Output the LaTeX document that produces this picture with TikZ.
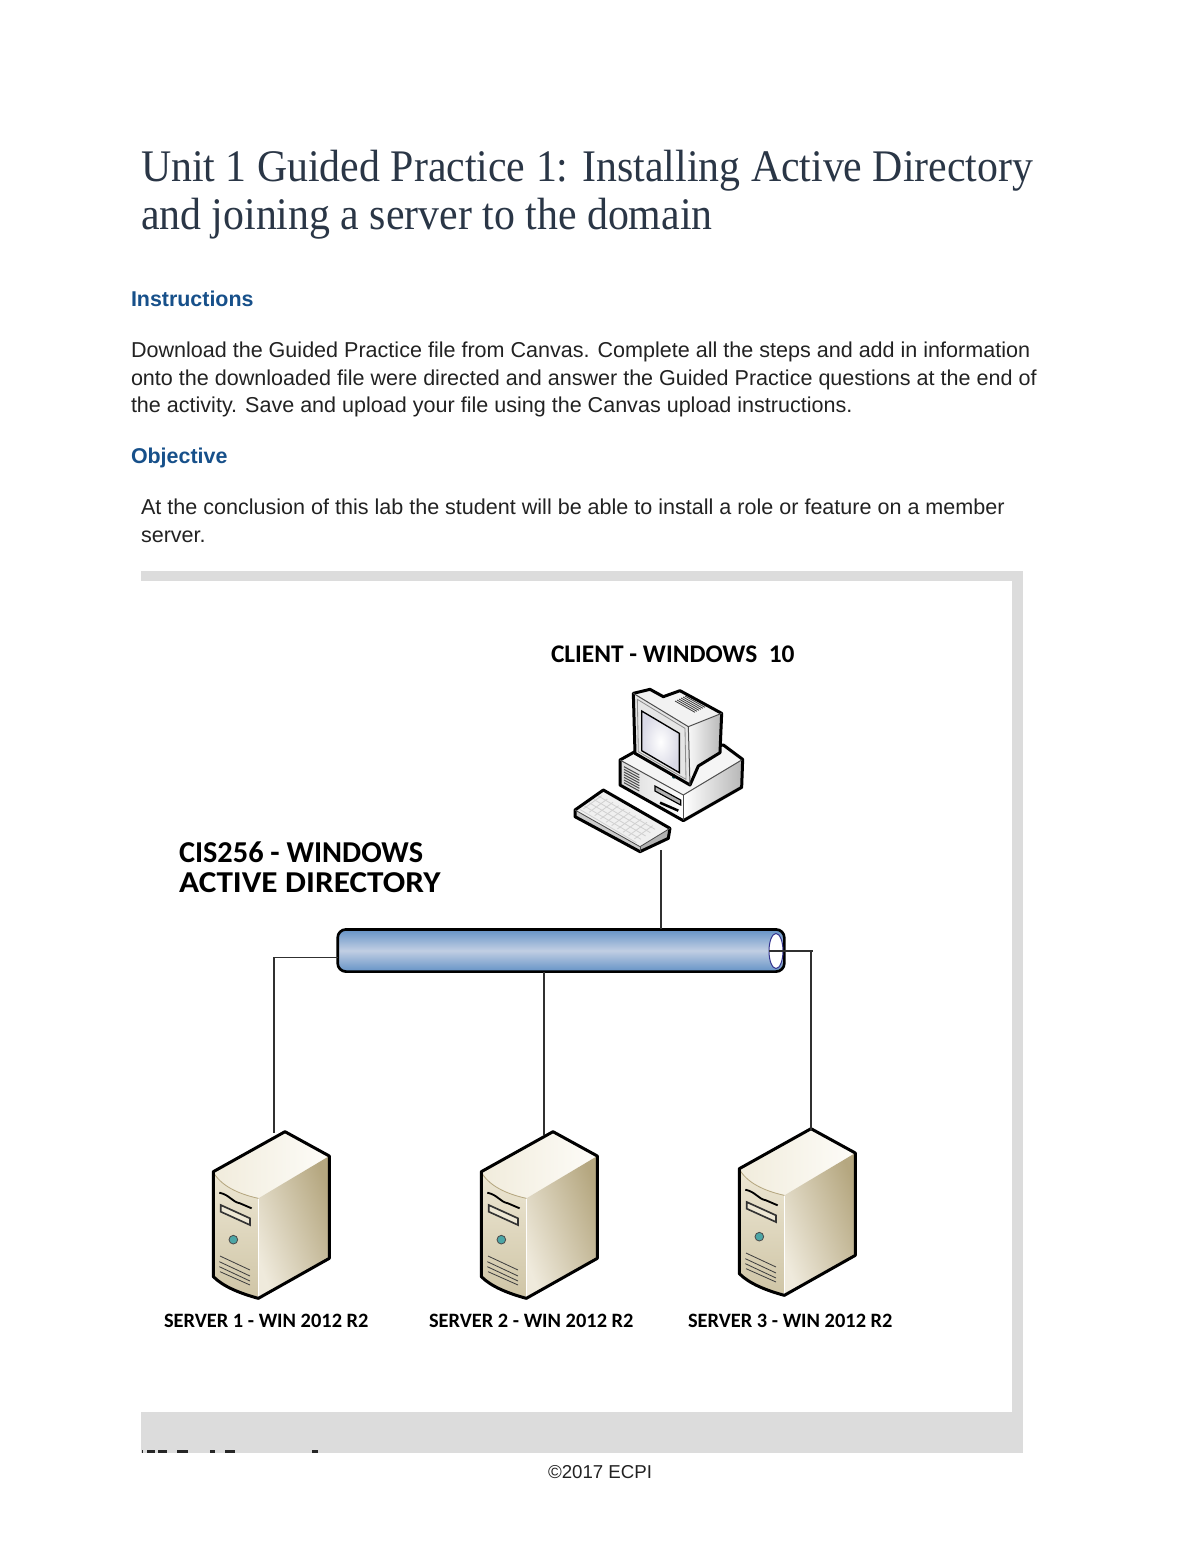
\documentclass[tikz,border=0pt]{standalone}
\usepackage{fontspec}
\usetikzlibrary{shapes.geometric}
\setmainfont{Liberation Sans}
\newfontfamily\titlefont{Liberation Serif}
\newfontfamily\labelfont{Carlito}
\definecolor{titlecol}{HTML}{2A3646}
\definecolor{headcol}{HTML}{17508A}
\definecolor{bodycol}{HTML}{222222}
\definecolor{framecol}{HTML}{DCDCDC}
\definecolor{conncol}{HTML}{303030}
\definecolor{pipeedge}{HTML}{6593C6}
\definecolor{pipemid}{HTML}{C1CEE3}
\definecolor{srvtopa}{HTML}{F1ECDC}
\definecolor{srvtopb}{HTML}{FDFCF8}
\definecolor{srvfronta}{HTML}{EDE7D4}
\definecolor{srvfrontb}{HTML}{CFC5A6}
\definecolor{srvrighta}{HTML}{EFEADC}
\definecolor{srvrightb}{HTML}{D3C9AB}
\definecolor{srvrightc}{HTML}{B5A780}
\tikzset{
  txt/.style={anchor=base west,inner sep=0pt,outer sep=0pt},
  titletext/.style={txt,text=titlecol,font=\titlefont\fontsize{25.1}{30}\selectfont},
  headtext/.style={txt,text=headcol,font=\bfseries\fontsize{12.85}{14}\selectfont},
  bodytext/.style={txt,text=bodycol,font=\fontsize{12.93}{15}\selectfont},
  bigbold/.style={txt,text=black,font=\labelfont\bfseries\fontsize{18.2}{20}\selectfont},
  midbold/.style={txt,text=black,font=\labelfont\bfseries\fontsize{15.25}{20}\selectfont},
  srvlabel/.style={txt,text=black,font=\labelfont\bfseries\fontsize{12.24}{14}\selectfont},
  conn/.style={draw=conncol,line width=0.7pt},
  outline/.style={draw=black,line width=1.8pt,line join=round},
  thin/.style={draw=black!75,line width=0.5pt},
  pics/serverart/.style={code={
    \begin{scope}[x=0.2pt,y=-0.2pt]
      \shade[left color=srvtopa,right color=srvtopb]
        (70,155) -- (285,35) -- (418,108) -- (205,235) .. controls (160,225) and (100,205) .. cycle;
      \shade[top color=srvfronta,bottom color=srvfrontb]
        (70,155) .. controls (100,205) and (160,225) .. (205,235) -- (205,530) .. controls (150,520) and (100,500) .. (70,470) -- cycle;
      \shade[left color=srvrighta,middle color=srvrightb,right color=srvrightc,shading angle=110]
        (205,235) -- (418,108) -- (418,415) -- (205,530) -- cycle;
      \draw[white,line width=1pt] (205,238) -- (205,528);
      \draw[srvrightc,line width=0.5pt] (72,160) .. controls (100,205) and (160,225) .. (205,235);
      \draw[outline] (70,155) -- (285,35) -- (418,108) -- (418,415) -- (205,535) .. controls (150,520) and (100,500) .. (70,470) -- cycle;
      \draw[black,line width=1.1pt] (88,218) .. controls (120,225) and (125,245) .. (150,250) -- (185,265);
      \draw[black!80,line width=1pt,fill=srvfronta] (92,255) -- (180,295) -- (180,315) -- (92,275) -- cycle;
      \fill[teal!70!white,draw=black!70,line width=0.5pt] (130,359) circle [radius=13];
      \draw[thin] (90,408) -- (180,450);
      \draw[thin] (88,425) -- (180,468);
      \draw[thin] (88,440) -- (180,483);
      \draw[thin] (90,455) -- (180,495);
    \end{scope}
  }}
}
\begin{document}
\begin{tikzpicture}[x=0.6pt,y=-0.6pt]
\useasboundingbox (0,0) rectangle (1200,1553);
\fill[white] (0,0) rectangle (1200,1553);

% document text
\node[titletext] (t1) at (141,181) {\scalebox{1}[1.08]{Unit 1 Guided Practice 1: Installing Active Directory}};
\node[titletext] (t2) at (141,229) {\scalebox{1}[1.08]{and joining a server to the domain}};
\node[headtext] (h1) at (131,306) {Instructions};
\node[bodytext] (b1) at (131,357) {Download the Guided Practice file from Canvas. Complete all the steps and add in information};
\node[bodytext] (b2) at (131,385) {onto the downloaded file were directed and answer the Guided Practice questions at the end of};
\node[bodytext] (b3) at (131,412) {the activity. Save and upload your file using the Canvas upload instructions.};
\node[headtext] (h2) at (131,463) {Objective};
\node[bodytext] (o1) at (141,514) {At the conclusion of this lab the student will be able to install a role or feature on a member};
\node[bodytext] (o2) at (141,542) {server.};
\node[txt,text=bodycol,font=\fontsize{11.2}{14}\selectfont] (foot) at (548,1478) {©2017 ECPI};

% frame
\fill[framecol] (141,571) rectangle (1023,581);
\fill[framecol] (1012,571) rectangle (1023,1453);
\fill[framecol] (141,1412) rectangle (1023,1453);
\foreach \xa/\xb in {142/143,147/155,158/167,177/188,210/215,225/235,312/318}
  \fill[black!85] (\xa,1450) rectangle (\xb,1453);

% labels
\node[midbold] (clientlabel) at (551,662) {CLIENT - WINDOWS\ \ 10};
\node[bigbold] (cis1) at (179,862) {CIS256 - WINDOWS};
\node[bigbold] (cis2) at (179,892) {\scalebox{1.096}[1]{ACTIVE DIRECTORY}};
\node[srvlabel] (l1) at (164,1327) {SERVER 1 - WIN 2012 R2};
\node[srvlabel] (l2) at (429,1327) {SERVER 2 - WIN 2012 R2};
\node[srvlabel] (l3) at (688,1327) {SERVER 3 - WIN 2012 R2};

% anchors of the drawn machines
\coordinate (clientport) at (661,850);
\coordinate (srv1top) at (274,1133);
\coordinate (srv2top) at (544,1135);
\coordinate (srv3top) at (811,1130);

% servers
\pic (srvA) at (190,1120) {serverart};
\pic (srvB) at (458,1120) {serverart};
\pic (srvC) at (716,1117) {serverart};

% pipe
\node[shade,top color=pipeedge,bottom color=pipeedge,middle color=pipemid,
      draw=black,line width=1.6pt,rounded corners=5pt,minimum width=268pt,minimum height=25.3pt,inner sep=0pt,outer sep=0pt]
      (pipe) at (561,950.5) {};
\node[ellipse,draw=blue!45!black!80,fill=white,line width=0.6pt,minimum width=8.4pt,minimum height=21pt,inner sep=0pt,outer sep=0pt] (pipeend) at (776,951) {};

% connectors
\coordinate (elbowL) at (274,957.5);
\coordinate (elbowR) at (811,951);
\coordinate (stubR) at (813,951);
\draw[conn] (pipe.west |- elbowL) -- (elbowL) -- (srv1top);
\draw[conn] (pipe.south -| srv2top) -- (srv2top);
\draw[conn] (pipeend.west) -- (stubR);
\draw[conn] (elbowR) -- (srv3top);
\draw[conn] (clientport) -- (pipe.north -| clientport);

% client computer
\begin{scope}[shift={(550,630)},x=0.2pt,y=-0.2pt]
  % keyboard
  \fill[white!94!black] (75,540) -- (160,480) -- (360,595) -- (270,650) -- cycle;
  \fill[white!80!black] (75,540) -- (270,650) -- (270,665) -- (75,560) -- cycle;
  \fill[white!70!black] (270,650) -- (360,595) -- (355,625) -- (270,665) -- cycle;
  \foreach \i in {0,...,9}{\draw[black!18,line width=0.5pt] ({155+\i*17},{497+\i*10}) -- ({100+\i*17},{537+\i*10});}
  \foreach \j in {0,...,4}{\draw[black!18,line width=0.5pt] ({145-\j*14},{498+\j*10}) -- ({315-\j*14},{598+\j*10});}
  \draw[outline] (75,540) -- (160,480) -- (360,595) -- (355,625) -- (270,665) -- (75,560) -- cycle;
  \draw[black!70,line width=0.5pt] (75,540) -- (270,650) -- (360,595);
  \draw[black!70,line width=0.5pt] (270,650) -- (270,665);
  % base box
  \fill[white!96!black] (210,390) -- (260,360) -- (530,340) -- (575,390) -- (400,495) -- cycle;
  \shade[left color=white!85!black,right color=white] (210,390) -- (400,495) -- (400,570) -- (210,465) -- cycle;
  \shade[left color=white,right color=white!72!black] (400,495) -- (575,390) -- (575,470) -- (400,570) -- cycle;
  \draw[outline] (210,390) -- (260,362) -- (520,345) -- (578,388) -- (575,472) -- (400,572) -- (210,465) -- cycle;
  \draw[black!70,line width=0.6pt] (210,390) -- (400,495) -- (575,390);
  \draw[black!70,line width=0.6pt] (400,495) -- (400,570);
  \foreach \k in {0,...,6} \draw[black!70,line width=0.6pt] (222,{410+\k*8}) -- (268,{435+\k*8});
  \draw[black,line width=0.7pt,fill=white!70!black] (315,468) -- (392,510) -- (392,525) -- (315,483) -- cycle;
  \draw[black,line width=1.5pt] (330,518) -- (385,542);
  % monitor
  \shade[left color=white!97!black,right color=white!72!black] (415,290) -- (515,250) -- (510,368) -- (440,410) -- (420,465) -- cycle;
  \fill[white!95!black] (250,190) -- (300,178) -- (340,200) -- (390,182) -- (515,250) -- (415,290) -- cycle;
  \fill[white!90!black] (250,190) -- (415,290) -- (420,465) -- (255,370) -- cycle;
  \draw[black!45,line width=0.5pt] (262,208) -- (405,295) -- (408,448) -- (265,365) -- cycle;
  \shade[inner color=white,outer color=blue!20!gray!25!white] (275,243) -- (388,310) -- (388,428) -- (275,362) -- cycle;
  \draw[black,line width=0.8pt] (275,243) -- (388,310) -- (388,428) -- (275,362) -- cycle;
  \foreach \k in {0,...,5} \draw[black!75,line width=0.5pt] ({375+\k*6},{213-\k*3}) -- ({435+\k*6},{247-\k*3});
  \fill[teal!60!black] (372,440) circle [radius=6];
  \draw[outline] (250,190) -- (300,178) -- (340,200) -- (390,182) -- (515,250) -- (510,368) -- (445,408) -- (420,465) -- (255,370) -- cycle;
  \draw[black!70,line width=0.6pt] (250,190) -- (415,290) -- (515,250);
  \draw[black!70,line width=0.6pt] (415,290) -- (420,465);
\end{scope}
\end{tikzpicture}
\end{document}
